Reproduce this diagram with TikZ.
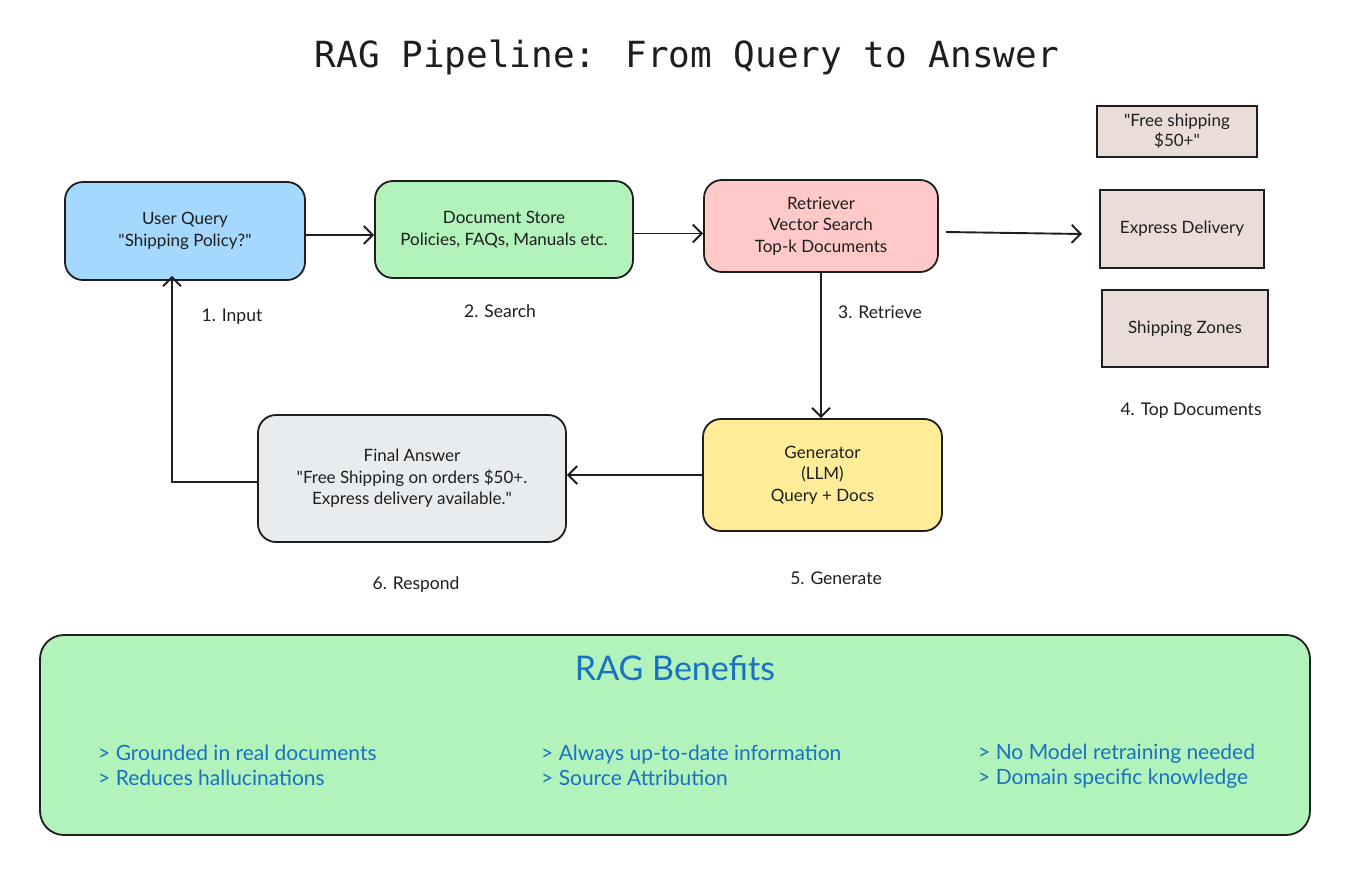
\documentclass[tikz,border=0pt]{standalone}
\usepackage{fontspec}
\setmainfont{Lato}
\newfontfamily\titlefont{DejaVu Sans Mono}
\usetikzlibrary{arrows.meta}
\definecolor{qblue}{HTML}{A5D8FF}
\definecolor{sgreen}{HTML}{B2F2BB}
\definecolor{rpink}{HTML}{FFC9C9}
\definecolor{gyellow}{HTML}{FFEC99}
\definecolor{fgrey}{HTML}{E9ECEF}
\definecolor{dtan}{HTML}{EADDD7}
\definecolor{bblue}{HTML}{1971C2}
\definecolor{ink}{HTML}{1E1E1E}
\newcommand{\dq}{\textquotedbl}
\begin{document}
\begin{tikzpicture}[x=1pt,y=-1pt,
  every node/.style={text=ink},
  box/.style={draw=ink, line width=1.8pt, rounded corners=18pt, align=center,
    font=\fontsize{17}{21.5}\selectfont, inner sep=0pt},
  docbox/.style={draw=ink, line width=1.8pt, fill=dtan, align=center,
    font=\fontsize{17}{20}\selectfont, inner sep=0pt},
  lbl/.style={font=\fontsize{17.5}{20}\selectfont, inner sep=0pt},
  arr/.style={draw=ink, line width=1.9pt, -{Straight Barb[length=9pt,width=18pt,line width=1.9pt]}},
  bullet/.style={text=bblue, anchor=west, align=left, inner sep=0pt,
    font=\fontsize{21}{25}\selectfont}
]
\useasboundingbox (0,0) rectangle (1358,875);

\node[font=\titlefont\fontsize{36}{40}\selectfont, inner sep=0pt] (title) at (687,57) {RAG Pipeline: From Query to Answer};

\node[box, fill=qblue, minimum width=240, minimum height=98] (query) at (185,231) {User Query\\\dq Shipping Policy?\dq};
\node[box, fill=sgreen, minimum width=258, minimum height=97] (store) at (504,229.5) {Document Store\\Policies, FAQs, Manuals etc.};
\node[box, fill=rpink, minimum width=234, minimum height=92] (retr) at (821,226) {Retriever\\Vector Search\\Top-k Documents};

\node[docbox, minimum width=160, minimum height=51] (doc1) at (1177,131.5) {\dq Free shipping\\\$50+\dq};
\node[docbox, minimum width=164, minimum height=78] (doc2) at (1182,229) {Express Delivery};
\node[docbox, minimum width=166, minimum height=77] (doc3) at (1185,328.5) {Shipping Zones};

\node[box, fill=gyellow, minimum width=239, minimum height=112] (gen) at (822.5,475) {Generator\\(LLM)\\Query + Docs};
\node[box, fill=fgrey, minimum width=308, minimum height=127] (final) at (412,478.5) {Final Answer\\\dq Free Shipping on orders \$50+.\\Express delivery available.\dq};

\node[lbl] (l1) at (232,317) {1. Input};
\node[lbl] (l2) at (500,311) {2. Search};
\node[lbl] (l3) at (880,312) {3. Retrieve};
\node[lbl] (l4) at (1191,411) {4. Top Documents};
\node[lbl] (l5) at (836,578) {5. Generate};
\node[lbl] (l6) at (416,585) {6. Respond};

\coordinate (docsin) at (1082,234);
\draw[arr] ([yshift=-4pt]query.east) -- ([yshift=-4pt]query.east -| store.west);
\draw[arr] ([yshift=-4pt]store.east) -- ([yshift=-4pt]store.east -| retr.west);
\draw[arr] ([xshift=7pt,yshift=-6pt]retr.east) -- (docsin);
\draw[arr] (retr.south) -- (retr.south |- gen.north);
\draw[arr] (gen.west) -- (gen.west -| final.east);
\draw[arr] ([yshift=-3.5pt]final.west) -| ([xshift=-13pt,yshift=5pt]query.south);

\node[draw=ink, line width=1.8pt, fill=sgreen, rounded corners=24pt, minimum width=1270, minimum height=200, inner sep=0pt] (ben) at (675,735) {};
\node[text=bblue, font=\fontsize{34}{38}\selectfont, inner sep=0pt] (bentitle) at (675,668) {RAG Benefits};
\node[bullet] (b1) at (98,765) {> Grounded in real documents\\> Reduces hallucinations};
\node[bullet] (b2) at (541,765) {> Always up-to-date information\\> Source Attribution};
\node[bullet] (b3) at (978,766) {> No Model retraining needed\\> Domain specific knowledge};
\end{tikzpicture}
\end{document}
